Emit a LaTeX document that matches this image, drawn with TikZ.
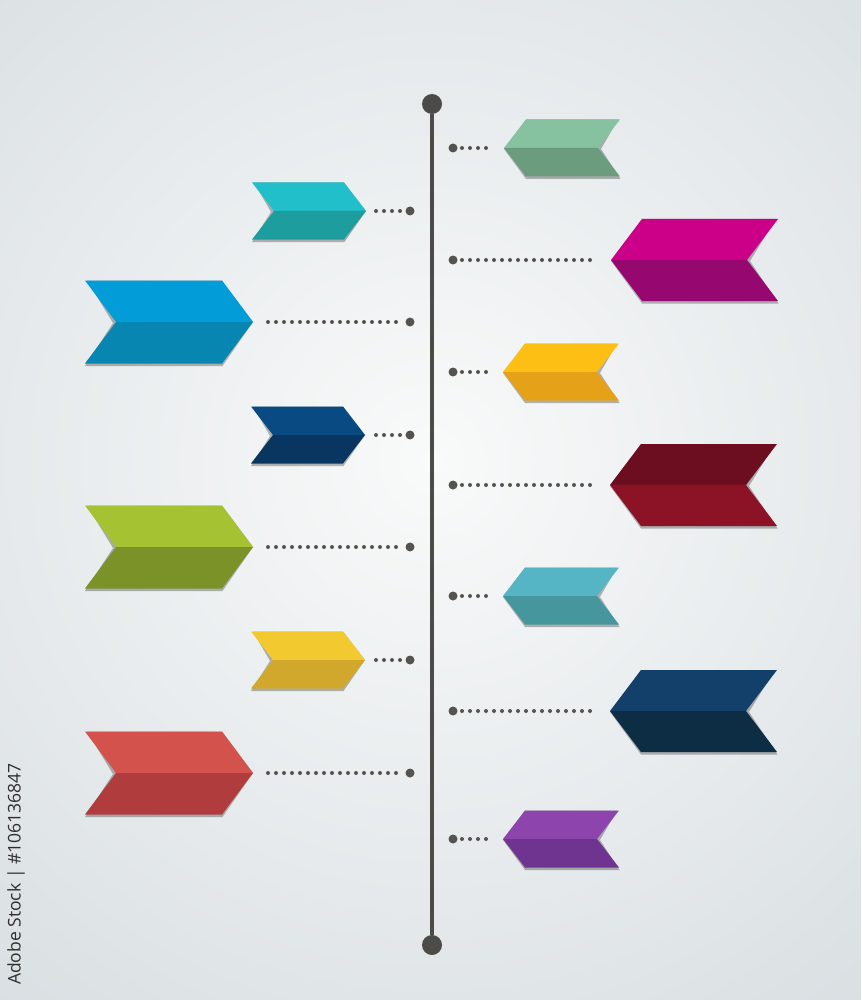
\documentclass[tikz,border=0pt]{standalone}
\usepackage{fontspec}
\setmainfont{Open Sans}
\definecolor{bg}{HTML}{D9DFE2}
\definecolor{glow}{HTML}{F9FAFA}
\definecolor{lineC}{HTML}{4D4B47}
\definecolor{dotC}{HTML}{55534F}
\definecolor{txtC}{HTML}{2E2E2E}
% right column
\definecolor{rAt}{HTML}{87C2A0}\definecolor{rAb}{HTML}{6A9C7D}
\definecolor{rBt}{HTML}{CC0088}\definecolor{rBb}{HTML}{960870}
\definecolor{rCt}{HTML}{FDBF14}\definecolor{rCb}{HTML}{E5A219}
\definecolor{rDt}{HTML}{6C0E20}\definecolor{rDb}{HTML}{8C1326}
\definecolor{rEt}{HTML}{56B5C4}\definecolor{rEb}{HTML}{46969E}
\definecolor{rFt}{HTML}{12406A}\definecolor{rFb}{HTML}{0D2D45}
\definecolor{rGt}{HTML}{8E44AD}\definecolor{rGb}{HTML}{6F3490}
% left column
\definecolor{lAt}{HTML}{21BFCA}\definecolor{lAb}{HTML}{1E9D9E}
\definecolor{lBt}{HTML}{029DD9}\definecolor{lBb}{HTML}{0686B0}
\definecolor{lCt}{HTML}{0A4A82}\definecolor{lCb}{HTML}{083660}
\definecolor{lDt}{HTML}{A4C232}\definecolor{lDb}{HTML}{7B9228}
\definecolor{lEt}{HTML}{F2CA30}\definecolor{lEb}{HTML}{D2A82C}
\definecolor{lFt}{HTML}{D4524C}\definecolor{lFb}{HTML}{B03C3D}
\tikzset{
  shadowfill/.style={fill=black,opacity=0.28},
  bigdot/.style={circle,fill=dotC,inner sep=0pt,minimum size=9pt},
  enddot/.style={circle,fill=lineC,inner sep=0pt,minimum size=20pt},
  smalldot/.style={fill=dotC}
}
% right-pointing arrow: #1 left x, #2 centre y, #3 width, #4 half height, #5 depth, #6 top colour, #7 bottom colour
\newcommand\rightchevron[7]{%
  \fill[shadowfill] (#1+2,#2-#4) -- (#1+#3,#2-#4) -- (#1+#3+#5,#2) -- (#1+#3+0.5,#2+#4+2.5) -- (#1,#2+#4+2.5) -- (#1+#5-3,#2+1) -- cycle;
  \fill[#6] (#1,#2-#4) -- (#1+#3,#2-#4) -- (#1+#3+#5,#2) -- (#1+#5,#2) -- cycle;
  \fill[#7] (#1+#5,#2) -- (#1+#3+#5,#2) -- (#1+#3,#2+#4) -- (#1,#2+#4) -- cycle;
}
% left-pointing arrow: #1 tip x, #2 centre y, #3 width, #4 half height, #5 depth
\newcommand\leftchevron[7]{%
  \fill[shadowfill] (#1,#2+1) -- (#1+#5,#2-#4) -- (#1+#5+#3-2,#2-#4) -- (#1+#3+3,#2+1) -- (#1+#5+#3+0.5,#2+#4+2.5) -- (#1+#5,#2+#4+2.5) -- cycle;
  \fill[#6] (#1,#2) -- (#1+#5,#2-#4) -- (#1+#5+#3,#2-#4) -- (#1+#3,#2) -- cycle;
  \fill[#7] (#1,#2) -- (#1+#3,#2) -- (#1+#5+#3,#2+#4) -- (#1+#5,#2+#4) -- cycle;
}
\begin{document}
\begin{tikzpicture}[x=1pt,y=-1pt]
\useasboundingbox (0,0) rectangle (861,1000);
\fill[bg] (0,0) rectangle (861,1000);
\begin{scope}
\clip (0,0) rectangle (861,1000);
\shade[inner color=glow,outer color=bg] (432,460) circle (700);
\end{scope}
% side text
\node[rotate=90,anchor=west,text=txtC,font=\fontsize{17.5}{18}\selectfont,inner sep=0pt] (credit) at (16,985) {Adobe Stock | \#106136847};
% timeline
\node[enddot] (top) at (432,104) {};
\node[enddot] (bot) at (432,945) {};
\draw[lineC,line width=3.5pt] (top) -- (bot);
% left arrows
\rightchevron{252}{211}{92}{28.5}{22}{lAt}{lAb}
\rightchevron{85}{322}{137}{41.5}{31}{lBt}{lBb}
\rightchevron{251}{435}{92}{28.5}{22}{lCt}{lCb}
\rightchevron{85}{547}{137}{41.5}{31}{lDt}{lDb}
\rightchevron{251}{660}{92}{28.5}{22}{lEt}{lEb}
\rightchevron{85}{773}{137}{41.5}{31}{lFt}{lFb}
% right arrows
\leftchevron{504}{148}{94}{28.5}{22}{rAt}{rAb}
\leftchevron{611}{260}{136}{41}{31}{rBt}{rBb}
\leftchevron{503}{372}{94}{28.5}{22}{rCt}{rCb}
\leftchevron{610}{485}{136}{41}{31}{rDt}{rDb}
\leftchevron{503}{596}{94}{28.5}{22}{rEt}{rEb}
\leftchevron{610}{711}{136}{41}{31}{rFt}{rFb}
\leftchevron{503}{839}{94}{28.5}{22}{rGt}{rGb}
% left dotted connectors
\foreach \y/\n in {211/la,435/lc,660/le}{
  \node[bigdot] (\n) at (410,\y) {};
  \foreach \k in {0,...,3} \fill[smalldot] (376+8*\k,\y) circle (2pt);
}
\foreach \y/\n in {322/lb,547/ld,773/lf}{
  \node[bigdot] (\n) at (410,\y) {};
  \foreach \k in {0,...,16} \fill[smalldot] (268+8*\k,\y) circle (2pt);
}
% right dotted connectors
\foreach \y/\n in {148/ra,372/rc,596/re,839/rg}{
  \node[bigdot] (\n) at (453,\y) {};
  \foreach \k in {0,...,3} \fill[smalldot] (462+8*\k,\y) circle (2pt);
}
\foreach \y/\n in {260/rb,485/rd,711/rf}{
  \node[bigdot] (\n) at (453,\y) {};
  \foreach \k in {0,...,16} \fill[smalldot] (462+8*\k,\y) circle (2pt);
}
\end{tikzpicture}
\end{document}
